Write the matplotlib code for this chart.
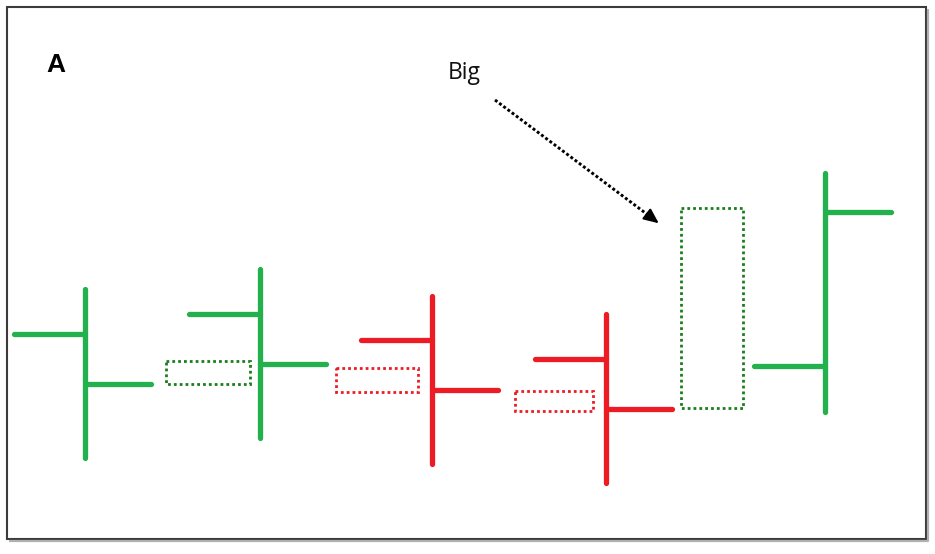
import numpy as np
import matplotlib.pyplot as plt
from matplotlib.patches import Rectangle

# bar levels, in pixel rows of the drawing (y grows downward)
bar_x = [85, 260, 432, 606, 825]
bar_high = [289, 269, 296, 314, 173]
bar_low = [458, 438, 464, 483, 412]
bar_open = [334, 314, 340, 359, 366]
bar_close = [384, 364, 390, 409, 212]
bar_color = ['green', 'green', 'red', 'red', 'green']

# gap boxes between the bars: left, right, top, bottom
gap_x0 = [166, 336, 515, 681]
gap_x1 = [250, 418, 593, 743]
gap_top = [361, 368, 391, 208]
gap_bot = [384, 392, 411, 408]
gap_color = ['green', 'red', 'red', 'green']

GREEN = '#22b14c'
RED = '#ed1c24'
DOT_GREEN = '#1b7d1b'
LEFT_TICK = 71
RIGHT_TICK = 66

fig = plt.figure(figsize=(9.35, 5.54), dpi=100)
ax = fig.add_axes([0, 0, 1, 1])
ax.set_xlim(0, 935)
ax.set_ylim(554, 0)
ax.axis('off')

# frame with a soft shadow
ax.plot([9, 928, 928], [541, 541, 9], color='#b0b0b0', lw=1.6, solid_capstyle='butt')
ax.add_patch(Rectangle((7, 7), 919, 532, fill=False, edgecolor='#3c3c3c', lw=1.5))

for x, hi, lo, op, cl, c in zip(bar_x, bar_high, bar_low, bar_open, bar_close, bar_color):
    col = GREEN if c == 'green' else RED
    kw = dict(color=col, lw=3.8, solid_capstyle='round')
    ax.plot([x, x], [hi, lo], **kw)
    ax.plot([x - LEFT_TICK, x], [op, op], **kw)
    ax.plot([x, x + RIGHT_TICK], [cl, cl], **kw)

for x0, x1, t, b, c in zip(gap_x0, gap_x1, gap_top, gap_bot, gap_color):
    col = DOT_GREEN if c == 'green' else RED
    ax.add_patch(Rectangle((x0, t), x1 - x0, b - t, fill=False, edgecolor=col,
                           lw=2.0, linestyle=(0, (1, 1.1))))

# annotation arrow
ax.plot([495, 652], [100, 218], color='black', lw=2.1, linestyle=(0, (1, 0.8)))
ax.annotate('', xy=(661, 225), xytext=(650, 216.5),
            arrowprops=dict(arrowstyle='-|>,head_length=0.9,head_width=0.4',
                            color='black', lw=1.5))

ax.text(448, 79, 'Big', fontsize=16.5, family='Open Sans', color='#111111',
        ha='left', va='baseline')
ax.text(46, 72, 'A', fontsize=19, family='Liberation Sans', fontweight='bold',
        color='black', ha='left', va='baseline')

fig.savefig('out.png', dpi=100)
